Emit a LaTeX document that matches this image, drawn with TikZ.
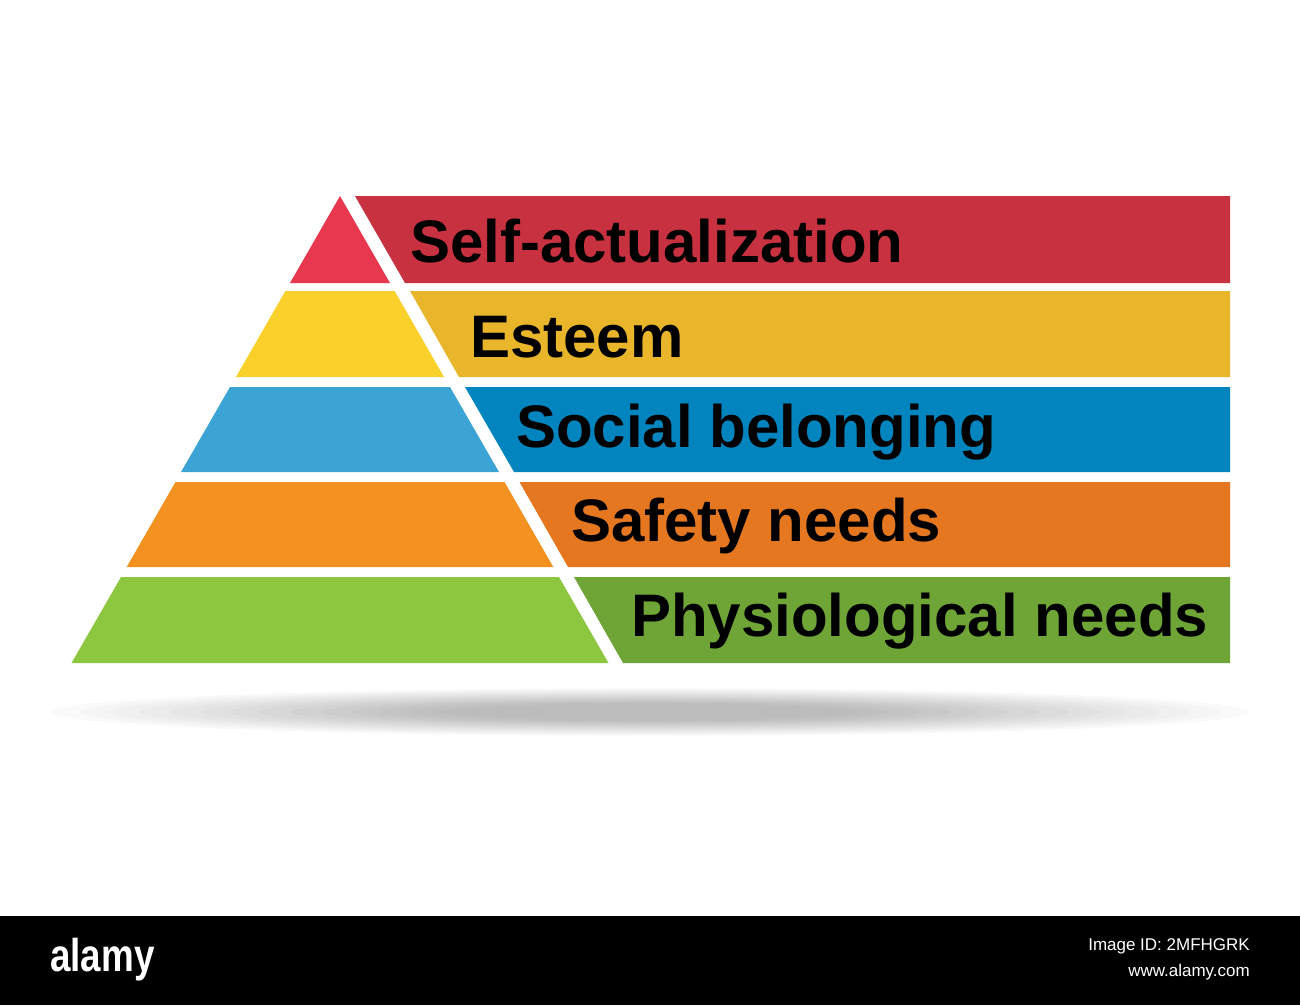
\documentclass[tikz,border=0pt]{standalone}
\usepackage{fontspec}
\setmainfont{Liberation Sans}
\begin{document}
\begin{tikzpicture}[x=1pt,y=-1pt,
  lab/.style={anchor=base west,inner sep=0pt,font=\bfseries\fontsize{60}{64}\selectfont,text=black}]
\useasboundingbox (0,0) rectangle (1300,1005);
\fill[white] (0,0) rectangle (1300,1005);
\definecolor{t1}{HTML}{E8384F}\definecolor{b1}{HTML}{C8313F}
\definecolor{t2}{HTML}{F9D12A}\definecolor{b2}{HTML}{E8B52B}
\definecolor{t3}{HTML}{3BA4D4}\definecolor{b3}{HTML}{0284BF}
\definecolor{t4}{HTML}{F39220}\definecolor{b4}{HTML}{E47720}
\definecolor{t5}{HTML}{8DC63F}\definecolor{b5}{HTML}{6FA536}
% shadow
\foreach \r in {1,0.95,...,0.3}
  \fill[black,opacity=0.018] (650,712) ellipse ({600*\r} and {24*\r});
% band 1
\fill[t1] (340,196) -- (390,283) -- (290,283) -- cycle;
\fill[b1] (355,196) -- (1230,196) -- (1230,283) -- (405,283) -- cycle;
\node[lab] (l1) at (410,262) {Self-actualization};
% band 2
\fill[t2] (285.4,291) -- (394.6,291) -- (444,377) -- (236,377) -- cycle;
\fill[b2] (410,291) -- (1230,291) -- (1230,377) -- (459,377) -- cycle;
\node[lab] (l2) at (470,357) {Esteem};
% band 3
\fill[t3] (230,387) -- (450,387) -- (499,472) -- (181,472) -- cycle;
\fill[b3] (465,387) -- (1230,387) -- (1230,472) -- (514,472) -- cycle;
\node[lab] (l3) at (516,447) {Social belonging};
% band 4
\fill[t4] (175.5,482) -- (504.5,482) -- (553.3,567) -- (126.7,567) -- cycle;
\fill[b4] (519.5,482) -- (1230,482) -- (1230,567) -- (568,567) -- cycle;
\node[lab] (l4) at (571,541) {Safety needs};
% band 5
\fill[t5] (121,577) -- (559,577) -- (608.5,663) -- (71.5,663) -- cycle;
\fill[b5] (574,577) -- (1230,577) -- (1230,663) -- (623,663) -- cycle;
\node[lab] (l5) at (631,636) {Physiological needs};
% bottom bar
\fill[black] (0,916) rectangle (1300,1005);
\node[anchor=west,text=white,font=\bfseries\fontsize{46}{50}\selectfont,inner sep=0pt,xscale=0.8] (al) at (50,960) {alamy};
\node[anchor=east,text=white,font=\fontsize{17}{20}\selectfont,inner sep=0pt] (id) at (1250,946) {Image ID: 2MFHGRK};
\node[anchor=east,text=white,font=\fontsize{17}{20}\selectfont,inner sep=0pt] (www) at (1250,972) {www.alamy.com};
\end{tikzpicture}
\end{document}
